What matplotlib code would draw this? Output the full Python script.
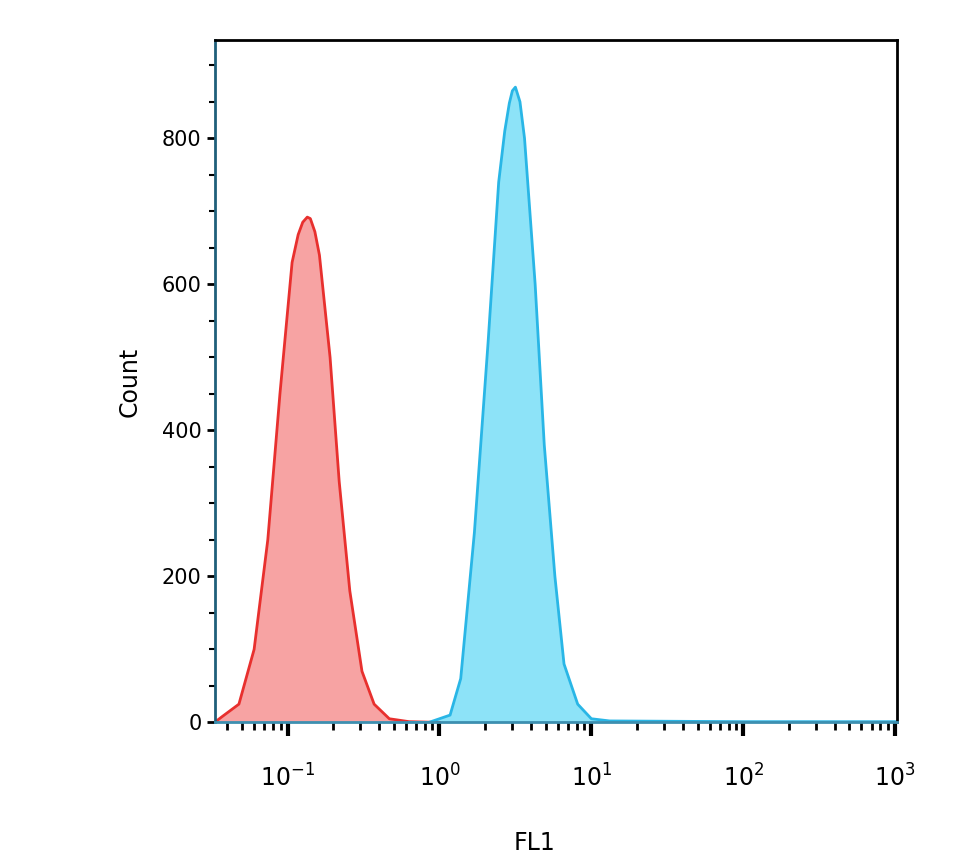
import matplotlib
matplotlib.use("Agg")
import matplotlib.pyplot as plt
import numpy as np
from matplotlib.ticker import LogLocator, MultipleLocator

red_x = [-1.48, -1.43, -1.32, -1.22, -1.13, -1.05, -0.97, -0.93, -0.90, -0.87, -0.85, -0.82, -0.79, -0.72, -0.66, -0.59, -0.51, -0.43, -0.33, -0.2, 0.0]
red_y = [0, 8, 25, 100, 250, 450, 630, 668, 685, 692, 690, 672, 640, 500, 330, 180, 70, 25, 5, 1, 0]
blue_x = [-0.2, -0.07, 0.07, 0.14, 0.23, 0.32, 0.39, 0.43, 0.46, 0.48, 0.50, 0.53, 0.56, 0.63, 0.69, 0.76, 0.82, 0.91, 1.0, 1.12, 2.0, 3.0]
blue_y = [0, 0, 10, 60, 260, 520, 740, 810, 848, 865, 870, 850, 800, 600, 380, 200, 80, 25, 5, 2, 1, 1]

fig = plt.figure(figsize=(9.8, 8.6), dpi=100)
ax = fig.add_axes([0.219, 0.160, 0.696, 0.793])
rx = 10 ** np.array(red_x); bx = 10 ** np.array(blue_x)
ax.fill_between(rx, red_y, color="#f7a3a3", lw=0)
ax.plot(rx, red_y, color="#e8302e", lw=2)
ax.fill_between(bx, blue_y, color="#8de3f8", lw=0)
ax.plot(bx, blue_y, color="#29b6e6", lw=2)
ax.set_xscale("log")
ax.set_xlim(10 ** -1.48, 10 ** 3.01)
ax.set_ylim(0, 934)
ax.set_xticks([0.1, 1, 10, 100, 1000])
ax.set_xticklabels([r"$10^{-1}$", r"$10^{0}$", r"$10^{1}$", r"$10^{2}$", r"$10^{3}$"], fontsize=17)
ax.xaxis.set_minor_locator(LogLocator(base=10, subs=np.arange(2, 10)))
ax.xaxis.set_minor_formatter(plt.NullFormatter())
ax.tick_params(axis="x", which="major", length=10, width=3, direction="out", pad=20)
ax.tick_params(axis="x", which="minor", length=6, width=2, direction="out")
ax.set_yticks([0, 200, 400, 600, 800])
ax.set_yticklabels(["0", "200", "400", "600", "800"], fontsize=15)
ax.yaxis.set_minor_locator(MultipleLocator(50))
ax.tick_params(axis="y", which="major", length=6, width=2)
ax.tick_params(axis="y", which="minor", length=4, width=1.5)
ax.set_ylabel("Count", fontsize=17, labelpad=14)
for s in ax.spines.values():
    s.set_linewidth(2)
ax.spines["left"].set_color("#1f5f7a")
ax.spines["bottom"].set_color("#3d8fb0")
fig.text(0.545, 0.02, "FL1", ha="center", va="center", fontsize=17)
fig.savefig("out.png")
